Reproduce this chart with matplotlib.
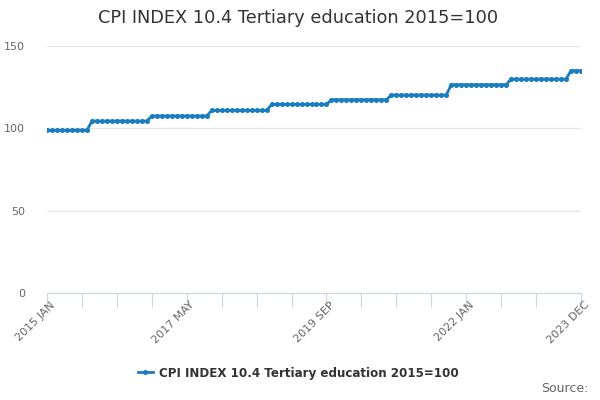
import matplotlib
matplotlib.use("Agg")
import matplotlib.pyplot as plt
import numpy as np

# monthly CPI index values, Jan 2015 .. Dec 2023
values = [
    98.8, 98.8, 98.8, 98.8, 98.8, 98.8, 98.8, 98.8, 98.8, 104.4, 104.4, 104.4,  # 2015
    104.4, 104.4, 104.4, 104.4, 104.4, 104.4, 104.4, 104.4, 104.4, 107.5, 107.5, 107.5,  # 2016
    107.5, 107.5, 107.5, 107.5, 107.5, 107.5, 107.5, 107.5, 107.5, 110.9, 110.9, 110.9,  # 2017
    110.9, 110.9, 110.9, 110.9, 110.9, 110.9, 110.9, 110.9, 110.9, 114.5, 114.5, 114.5,  # 2018
    114.5, 114.5, 114.5, 114.5, 114.5, 114.5, 114.5, 114.5, 114.5, 117.4, 117.4, 117.4,  # 2019
    117.4, 117.4, 117.4, 117.4, 117.4, 117.4, 117.4, 117.4, 117.4, 120.2, 120.2, 120.2,  # 2020
    120.2, 120.2, 120.2, 120.2, 120.2, 120.2, 120.2, 120.2, 120.2, 126.5, 126.5, 126.5,  # 2021
    126.5, 126.5, 126.5, 126.5, 126.5, 126.5, 126.5, 126.5, 126.5, 129.9, 129.9, 129.9,  # 2022
    129.9, 129.9, 129.9, 129.9, 129.9, 129.9, 129.9, 129.9, 129.9, 135.0, 135.0, 135.0,  # 2023
]
tick_pos = [0, 7, 14, 21, 28, 35, 42, 49, 56, 63, 70, 77, 84, 91, 98, 107]
label_pos = [0, 28, 56, 84, 107]
label_txt = ["2015 JAN", "2017 MAY", "2019 SEP", "2022 JAN", "2023 DEC"]
series_name = "CPI INDEX 10.4 Tertiary education 2015=100"

blue = "#1a7dc0"
x = np.arange(len(values))

fig = plt.figure(figsize=(6, 4), dpi=100)
ax = fig.add_axes([47/600, 1-293/400, (581-47)/600, (293-46)/400])

ax.plot(x, values, color=blue, lw=2, marker="o", ms=2.6, label=series_name)
ax.set_xlim(0, len(values) - 1)
ax.set_ylim(0, 150)
ax.set_yticks([0, 50, 100, 150])
ax.grid(axis="y", color="#e6e6e6", lw=1)
ax.set_axisbelow(True)
for s in ["top", "right", "left"]:
    ax.spines[s].set_visible(False)
ax.spines["bottom"].set_color("#ccd6eb")
ax.tick_params(axis="y", length=0, labelsize=8, labelcolor="#666666", pad=16)

ax.set_xticks(tick_pos)
ax.set_xticklabels([""] * len(tick_pos))
ax.tick_params(axis="x", length=10, color="#ccd6eb", labelsize=8)
for p, t in zip(label_pos, label_txt):
    ax.annotate(t, (p, 0), xytext=(2, -5), textcoords="offset points",
                rotation=45, ha="right", va="top", fontsize=8,
                color="#666666", rotation_mode="anchor")

fig.text(0.497, 1-18/400, "CPI INDEX 10.4 Tertiary education 2015=100",
         ha="center", va="center", fontsize=12.8, color="#333333")
ax.legend(loc="center", bbox_to_anchor=(0.497, 1-373/400),
          bbox_transform=fig.transFigure, frameon=False, handlelength=1.3,
          handletextpad=0.5, prop={"weight": "bold", "size": 8.6},
          labelcolor="#333333")
fig.text(588/600, 1-389/400, "Source:", ha="right", va="center",
         fontsize=9, color="#666666")

fig.savefig("out.png", dpi=100)
